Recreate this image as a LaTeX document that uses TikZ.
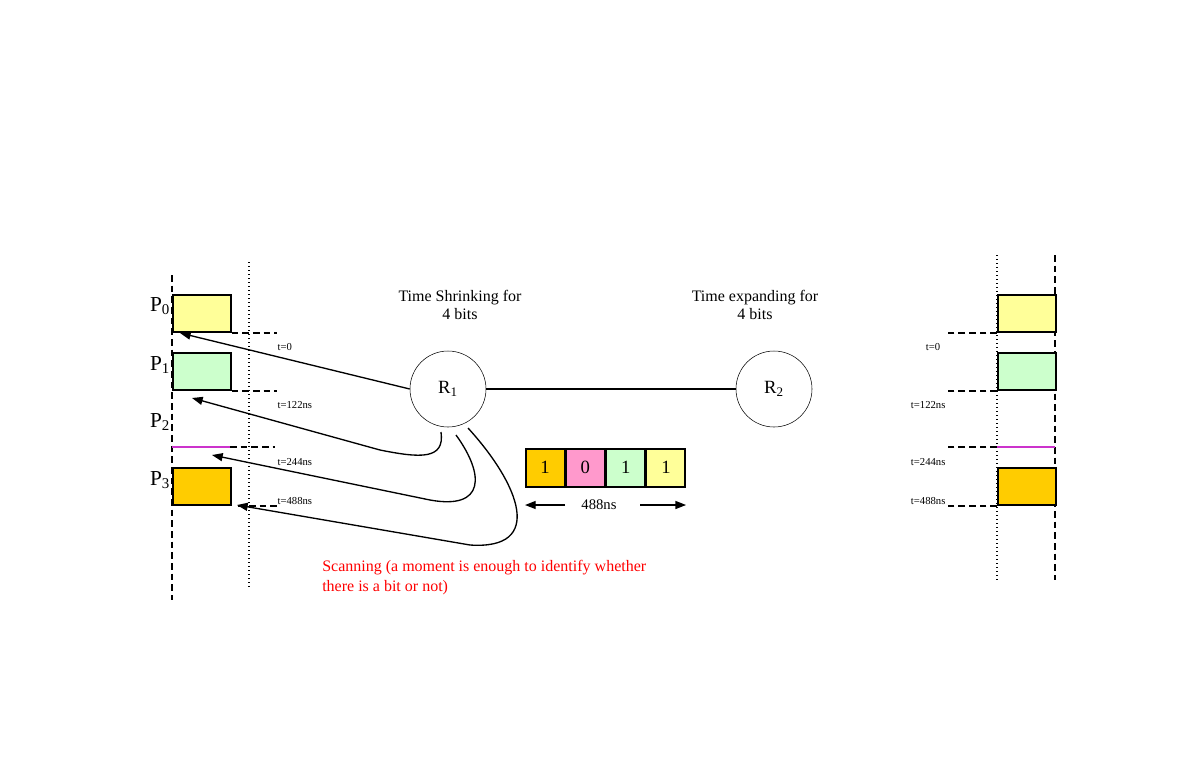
\documentclass[tikz,border=0pt]{standalone}
\usepackage{fontspec}
\setmainfont{Liberation Serif}
\usetikzlibrary{arrows.meta}
\definecolor{bityellow}{HTML}{FFFF99}
\definecolor{bitgreen}{HTML}{CCFFCC}
\definecolor{bitorange}{HTML}{FFCC00}
\definecolor{bitpink}{HTML}{FF99CC}
\definecolor{slotmagenta}{HTML}{CC33CC}
\begin{document}
\begin{tikzpicture}[
    x=0.75pt, y=-0.75pt,
    >={Triangle[length=8pt, width=6pt]},
    slot/.style={draw, line width=1.2pt, minimum width=43.5pt, minimum height=28pt, inner sep=0pt, anchor=north west},
    bit/.style={draw, line width=1.2pt, minimum width=29pt, minimum height=28.5pt, inner sep=0pt, anchor=north west, font=\fontsize{14}{16}\selectfont},
    router/.style={draw, circle, minimum size=57pt, inner sep=0pt, font=\fontsize{14}{16}\selectfont},
    tlabel/.style={font=\fontsize{8}{9}\selectfont, inner sep=1pt},
    plabel/.style={font=\fontsize{16}{18}\selectfont, inner sep=0pt},
    title/.style={font=\fontsize{12}{14}\selectfont, align=center},
    guide/.style={dashed, line width=1.2pt, dash pattern=on 5pt off 3pt},
    dotguide/.style={dotted, line width=1pt},
    arr/.style={->, line width=1pt},
]
\useasboundingbox (0,0) rectangle (1194,782);

% Left time slots
\draw[guide] (172,275) -- (172,600);
\draw[dotguide] (249,262) -- (249,588);
\node[slot, fill=bityellow] (p0) at (172,294) {};
\node[slot, fill=bitgreen] (p1) at (172,352) {};
\node[slot, fill=bitorange] (p3) at (172,467) {};
\coordinate (p2w) at (172,447);
\coordinate (p2e) at (230,447);
\draw[slotmagenta, line width=1.5pt] (p2w) -- (p2e);
\draw[guide] (p0.south east) -- ++(45,0);
\draw[guide] (p1.south east) -- ++(45,0);
\draw[guide] (p2e) -- ++(45,0);
\draw[guide] ([xshift=5]p3.south east) -- ++(40,0);
\node[plabel] at (160,306) {P\textsubscript{0}};
\node[plabel] at (160,365) {P\textsubscript{1}};
\node[plabel] at (160,422) {P\textsubscript{2}};
\node[plabel] at (160,480) {P\textsubscript{3}};
\node[tlabel, anchor=west] at (276,347) {t=0};
\node[tlabel, anchor=west] at (276,405) {t=122ns};
\node[tlabel, anchor=west] at (276,462) {t=244ns};
\node[tlabel, anchor=west] at (276,501) {t=488ns};

% Routers
\node[router] (r1) at (448,389) {R\textsubscript{1}};
\node[router] (r2) at (774,389) {R\textsubscript{2}};
\draw[line width=1pt] (r1) -- (r2);
\node[title] at (460,305) {Time Shrinking for\\4 bits};
\node[title] at (755,305) {Time expanding for\\4 bits};

% Scanning arrows
\coordinate (a0) at (180,333);
\coordinate (a1) at (192,398);
\coordinate (a2) at (212,455);
\coordinate (a3) at (237,505);
\draw[arr] (r1.west) -- (a0);
\draw[arr] (441,432) .. controls (445,460) and (420,458) .. (380,450) -- (a1);
\draw[arr] (456,435) .. controls (485,475) and (485,510) .. (430,500) -- (a2);
\draw[arr] (468,428) .. controls (520,485) and (545,550) .. (470,545) -- (a3);
\node[anchor=north west, text=red, align=left, font=\fontsize{12}{15}\selectfont, inner sep=0pt] at (322,560) {Scanning (a moment is enough to identify whether\\there is a bit or not)};

% Bit burst
\node[bit, fill=bitorange] (b1) at (525,448) {1};
\node[bit, fill=bitpink] (b2) at (b1.north east) {0};
\node[bit, fill=bitgreen] (b3) at (b2.north east) {1};
\node[bit, fill=bityellow] (b4) at (b3.north east) {1};
\node[font=\fontsize{11}{13}\selectfont] (len) at (599,505) {488ns};
\draw[arr] (565,505) -- (b1.south west |- len);
\draw[arr] (640,505) -- (b4.south east |- len);

% Right time slots
\draw[dotguide] (997,255) -- (997,580);
\draw[guide] (1055,255) -- (1055,580);
\node[slot, fill=bityellow] (q0) at (997,294) {};
\node[slot, fill=bitgreen] (q1) at (997,352) {};
\node[slot, fill=bitorange] (q3) at (997,467) {};
\coordinate (q2w) at (997,447);
\draw[slotmagenta, line width=1.5pt] (q2w) -- (1055,447);
\draw[guide] (q0.south west) -- ++(-50,0);
\draw[guide] (q1.south west) -- ++(-50,0);
\draw[guide] (q2w) -- ++(-50,0);
\draw[guide] (q3.south west) -- ++(-50,0);
\node[tlabel] at (933,347) {t=0};
\node[tlabel, anchor=east] at (947,405) {t=122ns};
\node[tlabel, anchor=east] at (947,462) {t=244ns};
\node[tlabel, anchor=east] at (947,501) {t=488ns};
\end{tikzpicture}
\end{document}
